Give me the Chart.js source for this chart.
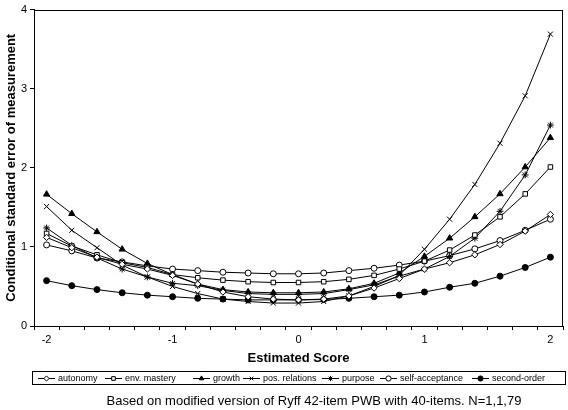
<!DOCTYPE html>
<html>
<head>
<meta charset="utf-8">
<script src="https://cdn.jsdelivr.net/npm/chart.js@4/dist/chart.umd.min.js"></script>
<style>
html,body{margin:0;padding:0;background:#fff;}
#wrap{width:568px;height:410px;position:relative;}
</style>
</head>
<body>
<div id="wrap"><canvas id="c" width="568" height="410"></canvas></div>
<script>
const categories = ["-2","-1.8","-1.6","-1.4","-1.2","-1","-0.8","-0.6","-0.4","-0.2","0","0.2","0.4","0.6","0.8","1","1.2","1.4","1.6","1.8","2"];
const yTicks = [0,1,2,3,4];
const autonomy      = [1.12,0.99,0.87,0.78,0.72,0.64,0.53,0.43,0.37,0.34,0.33,0.34,0.38,0.48,0.60,0.72,0.80,0.90,1.03,1.20,1.41];
const envMastery    = [1.17,1.01,0.90,0.80,0.74,0.65,0.61,0.58,0.56,0.55,0.55,0.56,0.59,0.64,0.72,0.82,0.96,1.15,1.38,1.67,2.01];
const growth        = [1.665,1.42,1.19,0.97,0.79,0.65,0.53,0.46,0.43,0.42,0.42,0.43,0.47,0.54,0.67,0.88,1.11,1.38,1.67,2.01,2.38];
const posRelations  = [1.51,1.21,0.99,0.77,0.62,0.50,0.41,0.34,0.31,0.29,0.29,0.31,0.38,0.50,0.64,0.97,1.35,1.79,2.31,2.91,3.69];
const purpose       = [1.24,1.02,0.86,0.72,0.62,0.54,0.51,0.45,0.41,0.40,0.40,0.41,0.46,0.52,0.63,0.72,0.88,1.11,1.45,1.91,2.54];
const selfAcceptance= [1.025,0.95,0.86,0.81,0.76,0.72,0.70,0.68,0.67,0.66,0.66,0.67,0.70,0.73,0.77,0.82,0.89,0.975,1.08,1.21,1.35];
const secondOrder   = [0.573,0.51,0.46,0.42,0.39,0.37,0.35,0.34,0.33,0.33,0.33,0.335,0.35,0.37,0.39,0.43,0.49,0.54,0.63,0.74,0.87];
const seriesLabels = ["autonomy","env. mastery","growth","pos. relations","purpose","self-acceptance","second-order"];
const caption = "Based on modified version of Ryff 42-item PWB with 40-items. N=1,1,79";

const FONT = "'Liberation Sans', Arial, sans-serif";
const styles = [
  {ps:'rectRot', fill:'#fff', r:3.2},
  {ps:'rect', fill:'#fff', r:3.2},
  {ps:'triangle', fill:'#000', r:3.6},
  {ps:'crossRot', fill:'#000', r:3.6},
  {ps:'star', fill:'#000', r:3.4},
  {ps:'circle', fill:'#fff', r:3},
  {ps:'circle', fill:'#000', r:3}
];
const allData = [autonomy, envMastery, growth, posRelations, purpose, selfAcceptance, secondOrder];
const datasets = allData.map((d,i)=>({
  label: seriesLabels[i],
  data: d,
  borderColor:'#000',
  borderWidth:1,
  backgroundColor: styles[i].fill,
  pointStyle: styles[i].ps,
  pointRadius: styles[i].r,
  pointBorderColor:'#000',
  pointBackgroundColor: styles[i].fill,
  pointBorderWidth:1,
  tension:0,
  fill:false
}));

const legendX0 = [38,105,193,243,322,380,472];

const extras = {
  id:'extras',
  afterDraw(chart){
    const ctx = chart.ctx, a = chart.chartArea;
    ctx.save();
    ctx.strokeStyle='#000'; ctx.lineWidth=1;
    ctx.strokeRect(Math.round(a.left)+0.5, Math.round(a.top)+0.5, Math.round(a.right-a.left)-1, Math.round(a.bottom-a.top));
    // legend box
    ctx.strokeRect(32.5,371.5,533,13);
    ctx.font = "9px "+FONT;
    ctx.textBaseline='middle';
    const ly = 378;
    chart.data.datasets.forEach((ds,i)=>{
      const x0 = legendX0[i];
      ctx.strokeStyle='#000';
      ctx.beginPath(); ctx.moveTo(x0,ly+0.5); ctx.lineTo(x0+17,ly+0.5); ctx.stroke();
      ctx.fillStyle = ds.pointBackgroundColor;
      Chart.helpers.drawPoint(ctx,{pointStyle:ds.pointStyle, radius:2.6, rotation:0, borderWidth:1}, x0+8.5, ly+0.5);
      ctx.fillStyle='#000';
      ctx.textAlign='left';
      ctx.fillText(ds.label, x0+20, ly+0.5);
    });
    ctx.font = "13px "+FONT;
    ctx.textAlign='center';
    ctx.fillText(caption, 314, 401);
    ctx.restore();
  }
};

new Chart(document.getElementById('c'), {
  type:'line',
  data:{labels:categories, datasets},
  options:{
    responsive:false,
    animation:false,
    devicePixelRatio:1,
    layout:{padding:{left:0,right:1,top:7,bottom:40}},
    plugins:{legend:{display:false}, tooltip:{enabled:false}},
    scales:{
      x:{
        type:'category',
        offset:true,
        grid:{display:true, offset:true, drawOnChartArea:false, drawTicks:true, tickLength:4, color:'#000'},
        border:{display:true,color:'#000',width:1},
        ticks:{
          autoSkip:false, maxRotation:0, minRotation:0, color:'#000', padding:3,
          font:{family:FONT,size:11},
          callback(v){ const l=this.getLabelForValue(v); return Number.isInteger(Number(l)) ? l : ''; }
        },
        title:{display:true,text:'Estimated Score',color:'#000',font:{family:FONT,size:13,weight:'bold'},padding:{top:4,bottom:4}},
        afterFit(s){ s.height = 44; }
      },
      y:{
        min:0,max:4,
        afterBuildTicks(s){ s.ticks = yTicks.map(v=>({value:v})); },
        grid:{display:true, drawOnChartArea:false, drawTicks:true, tickLength:4, color:'#000'},
        border:{display:true,color:'#000',width:1},
        ticks:{color:'#000', padding:3, font:{family:FONT,size:11}},
        title:{display:true,text:'Conditional standard error of measurement',color:'#000',font:{family:FONT,size:13,weight:'bold'},padding:{top:4,bottom:4}},
        afterFit(s){ s.width = 34; }
      }
    }
  },
  plugins:[extras]
});
</script>
</body>
</html>
